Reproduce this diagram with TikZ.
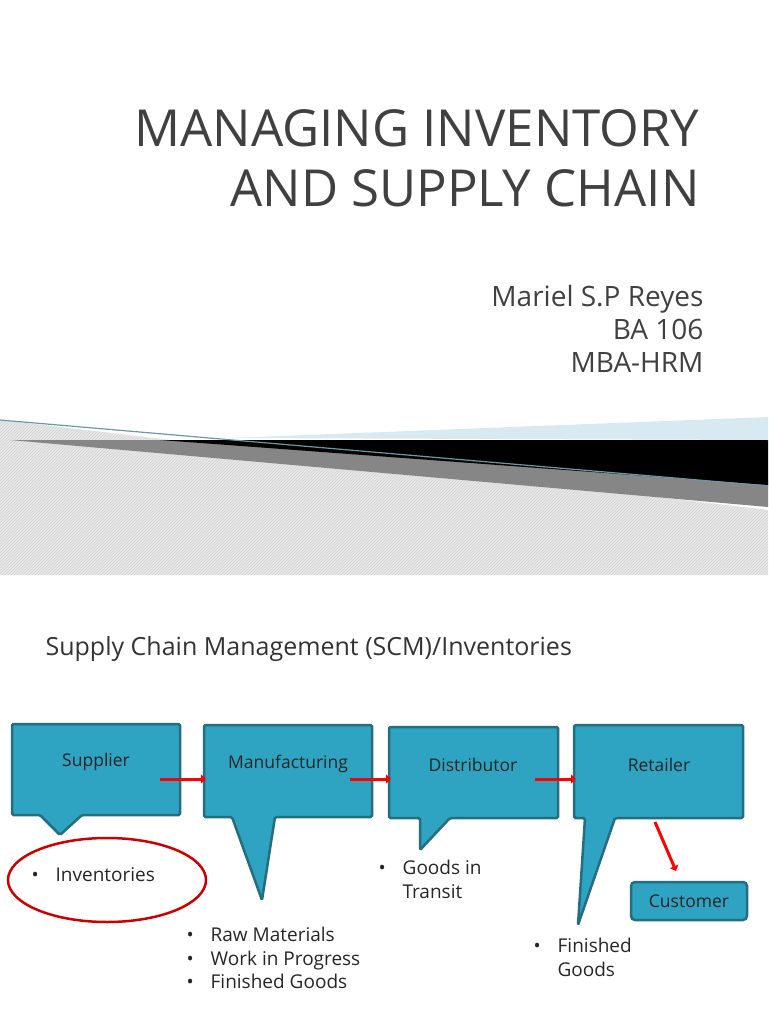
\documentclass[tikz,border=0pt]{standalone}
\usepackage{fontspec}
\setmainfont{Open Sans}
\usetikzlibrary{arrows.meta,patterns}
\definecolor{boxfill}{HTML}{2EA3C2}
\definecolor{boxline}{HTML}{236E80}
\definecolor{titlegray}{HTML}{404040}
\definecolor{lightblue}{HTML}{D7EAF2}
\begin{document}
\begin{tikzpicture}[x=1pt,y=-1pt,
  callout/.style={fill=boxfill,draw=boxline,line width=2.5pt,rounded corners=1.5pt},
  lbl/.style={font=\fontsize{17.5}{20}\selectfont,text=black!85},
  bul/.style={font=\fontsize{19}{23.5}\selectfont,text=black!85,align=left,anchor=north west},
  redarrow/.style={draw=red,line width=3pt,-{Triangle[length=5pt,width=9pt]}}]
\useasboundingbox (0,0) rectangle (768,1024);
% banner
\fill[gray!18] (0,420) -- (768,510) -- (768,575) -- (0,575) -- cycle;
\fill[pattern=north east lines,pattern color=gray!35] (0,420) -- (768,510) -- (768,575) -- (0,575) -- cycle;
\fill[gray!95] (10,440) -- (170,440) -- (768,480) -- (768,507) -- cycle;
\fill[black] (160,440) -- (768,440) -- (768,485) -- cycle;
\fill[lightblue] (230,438) -- (768,417) -- (768,440) -- cycle;
\draw[boxline!70,line width=1.2pt] (0,420) -- (768,486);
% title
\node[anchor=north east,align=right,text=titlegray,font=\fontsize{51}{60}\selectfont] (title) at (703,106) {MANAGING INVENTORY\\AND SUPPLY CHAIN};
\node[anchor=north east,align=right,text=titlegray,font=\fontsize{28}{33}\selectfont] (sub) at (707,282) {Mariel S.P Reyes\\BA 106\\MBA-HRM};
\node[anchor=west,text=black!80,font=\fontsize{25}{28}\selectfont] (head) at (42,649) {Supply Chain Management (SCM)/Inventories};
% callouts
\draw[callout] (12,724) -- (180,724) -- (180,815) -- (82,815) -- (60,835) -- (40,815) -- (12,815) -- cycle;
\node[lbl] (sup) at (96,762) {Supplier};
\draw[callout] (204,725) -- (372,725) -- (372,817) -- (275,817) -- (262,900) -- (232,817) -- (204,817) -- cycle;
\node[lbl] (man) at (288,764) {Manufacturing};
\draw[callout] (389,727) -- (558,727) -- (558,818) -- (450,818) -- (420,850) -- (420,818) -- (389,818) -- cycle;
\node[lbl] (dis) at (473,765) {Distributor};
\draw[callout] (574,725) -- (743,725) -- (743,818) -- (615,818) -- (578,925) -- (585,818) -- (574,818) -- cycle;
\node[lbl] (ret) at (659,765) {Retailer};
\node[fill=boxfill,draw=boxline,line width=2.5pt,rounded corners=4pt,minimum width=116pt,minimum height=38pt,lbl] (cust) at (689,901) {Customer};
% arrows
\coordinate (a1) at (160,779); \coordinate (b1) at (206,779);
\coordinate (a2) at (350,779); \coordinate (b2) at (391,779);
\coordinate (a3) at (535,779); \coordinate (b3) at (576,779);
\coordinate (a4) at (655,822); \coordinate (b4) at (676,871);
\draw[redarrow] (a1) -- (b1);
\draw[redarrow] (a2) -- (b2);
\draw[redarrow] (a3) -- (b3);
\draw[redarrow] (a4) -- (b4);
% bullets
\draw[red!80!black,line width=2.5pt] (107,880) ellipse [x radius=99pt,y radius=42pt];
\node[bul] (inv) at (28,864) {•\hspace{17pt}Inventories};
\node[bul] (b2t) at (183,924) {•\hspace{17pt}Raw Materials\\•\hspace{17pt}Work in Progress\\•\hspace{17pt}Finished Goods};
\node[bul] (b3t) at (375,857) {•\hspace{17pt}Goods in\\\hspace{24pt}Transit};
\node[bul] (b4t) at (530,935) {•\hspace{17pt}Finished\\\hspace{24pt}Goods};
\end{tikzpicture}
\end{document}
